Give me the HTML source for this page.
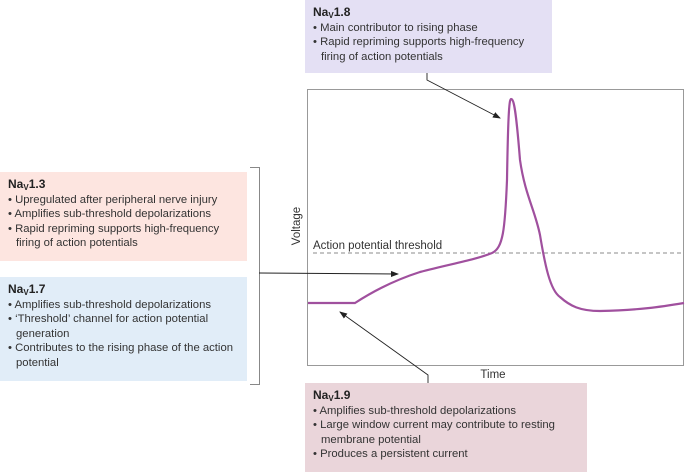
<!DOCTYPE html>
<html><head><meta charset="utf-8"><style>
body{margin:0;width:685px;height:472px;position:relative;background:#fff;font-family:"Liberation Sans",sans-serif;color:#333;overflow:hidden}
.box{position:absolute;box-sizing:border-box;padding:5px 8px;font-size:11.3px;line-height:14.6px}
.box h{display:block;font-weight:bold;font-size:12px;margin-bottom:1px;color:#222}
.box sub{font-size:8px;vertical-align:-2px;line-height:0}
.li{padding-left:8px;text-indent:-8px}
</style></head><body>
<svg width="685" height="472" style="position:absolute;left:0;top:0">
<defs><marker id="a" markerWidth="8" markerHeight="6" refX="7" refY="3" orient="auto" markerUnits="userSpaceOnUse"><path d="M0,0L8,3L0,6z" fill="#222"/></marker></defs>
<rect x="307.5" y="89.5" width="376" height="276" fill="none" stroke="#999" stroke-width="1"/>
<line x1="313" y1="253" x2="684" y2="253" stroke="#666" stroke-dasharray="4,3" stroke-width="0.8"/>
<text x="313" y="249" font-size="11.5" fill="#333">Action potential threshold</text>
<text transform="translate(300,226) rotate(-90)" font-size="11.5" fill="#333" text-anchor="middle">Voltage</text>
<text x="493" y="378" font-size="11.5" fill="#333" text-anchor="middle">Time</text>
<path d="M308,303 L355,303 C375,290 395,280 420,272 C450,264 475,260 492,253 C503,248 505,230 507,180 C508,120 509,99 511,99 C514,99 516,110 520,160 C525,195 535,210 540,235 C545,265 550,290 560,297 C570,306 580,311 600,311 C640,310 660,307 684,303" fill="none" stroke="#a0509e" stroke-width="2.2"/>
<path d="M250,167.5H259.5V384.5H250" fill="none" stroke="#888"/>
<line x1="259" y1="273" x2="398" y2="274" stroke="#222" stroke-width="0.9" marker-end="url(#a)"/>
<path d="M427,73V80L500,118" fill="none" stroke="#222" stroke-width="0.9" marker-end="url(#a)"/>
<path d="M428,383V375L340,312" fill="none" stroke="#222" stroke-width="0.9" marker-end="url(#a)"/>
</svg>
<div class="box" style="left:305px;top:0;width:247px;height:73px;background:#e4e0f4"><h>Na<sub>V</sub>1.8</h><div class="li">• Main contributor to rising phase</div><div class="li">• Rapid repriming supports high-frequency firing of action potentials</div></div>
<div class="box" style="left:0;top:172px;width:247px;height:89px;background:#fde5e0"><h>Na<sub>V</sub>1.3</h><div class="li">• Upregulated after peripheral nerve injury</div><div class="li">• Amplifies sub-threshold depolarizations</div><div class="li">• Rapid repriming supports high-frequency firing of action potentials</div></div>
<div class="box" style="left:0;top:277px;width:247px;height:104px;background:#e1edf8"><h>Na<sub>V</sub>1.7</h><div class="li">• Amplifies sub-threshold depolarizations</div><div class="li">• ‘Threshold’ channel for action potential generation</div><div class="li">• Contributes to the rising phase of the action potential</div></div>
<div class="box" style="left:305px;top:383px;width:282px;height:89px;background:#ead5da"><h>Na<sub>V</sub>1.9</h><div class="li">• Amplifies sub-threshold depolarizations</div><div class="li">• Large window current may contribute to resting membrane potential</div><div class="li">• Produces a persistent current</div></div>
</body></html>
